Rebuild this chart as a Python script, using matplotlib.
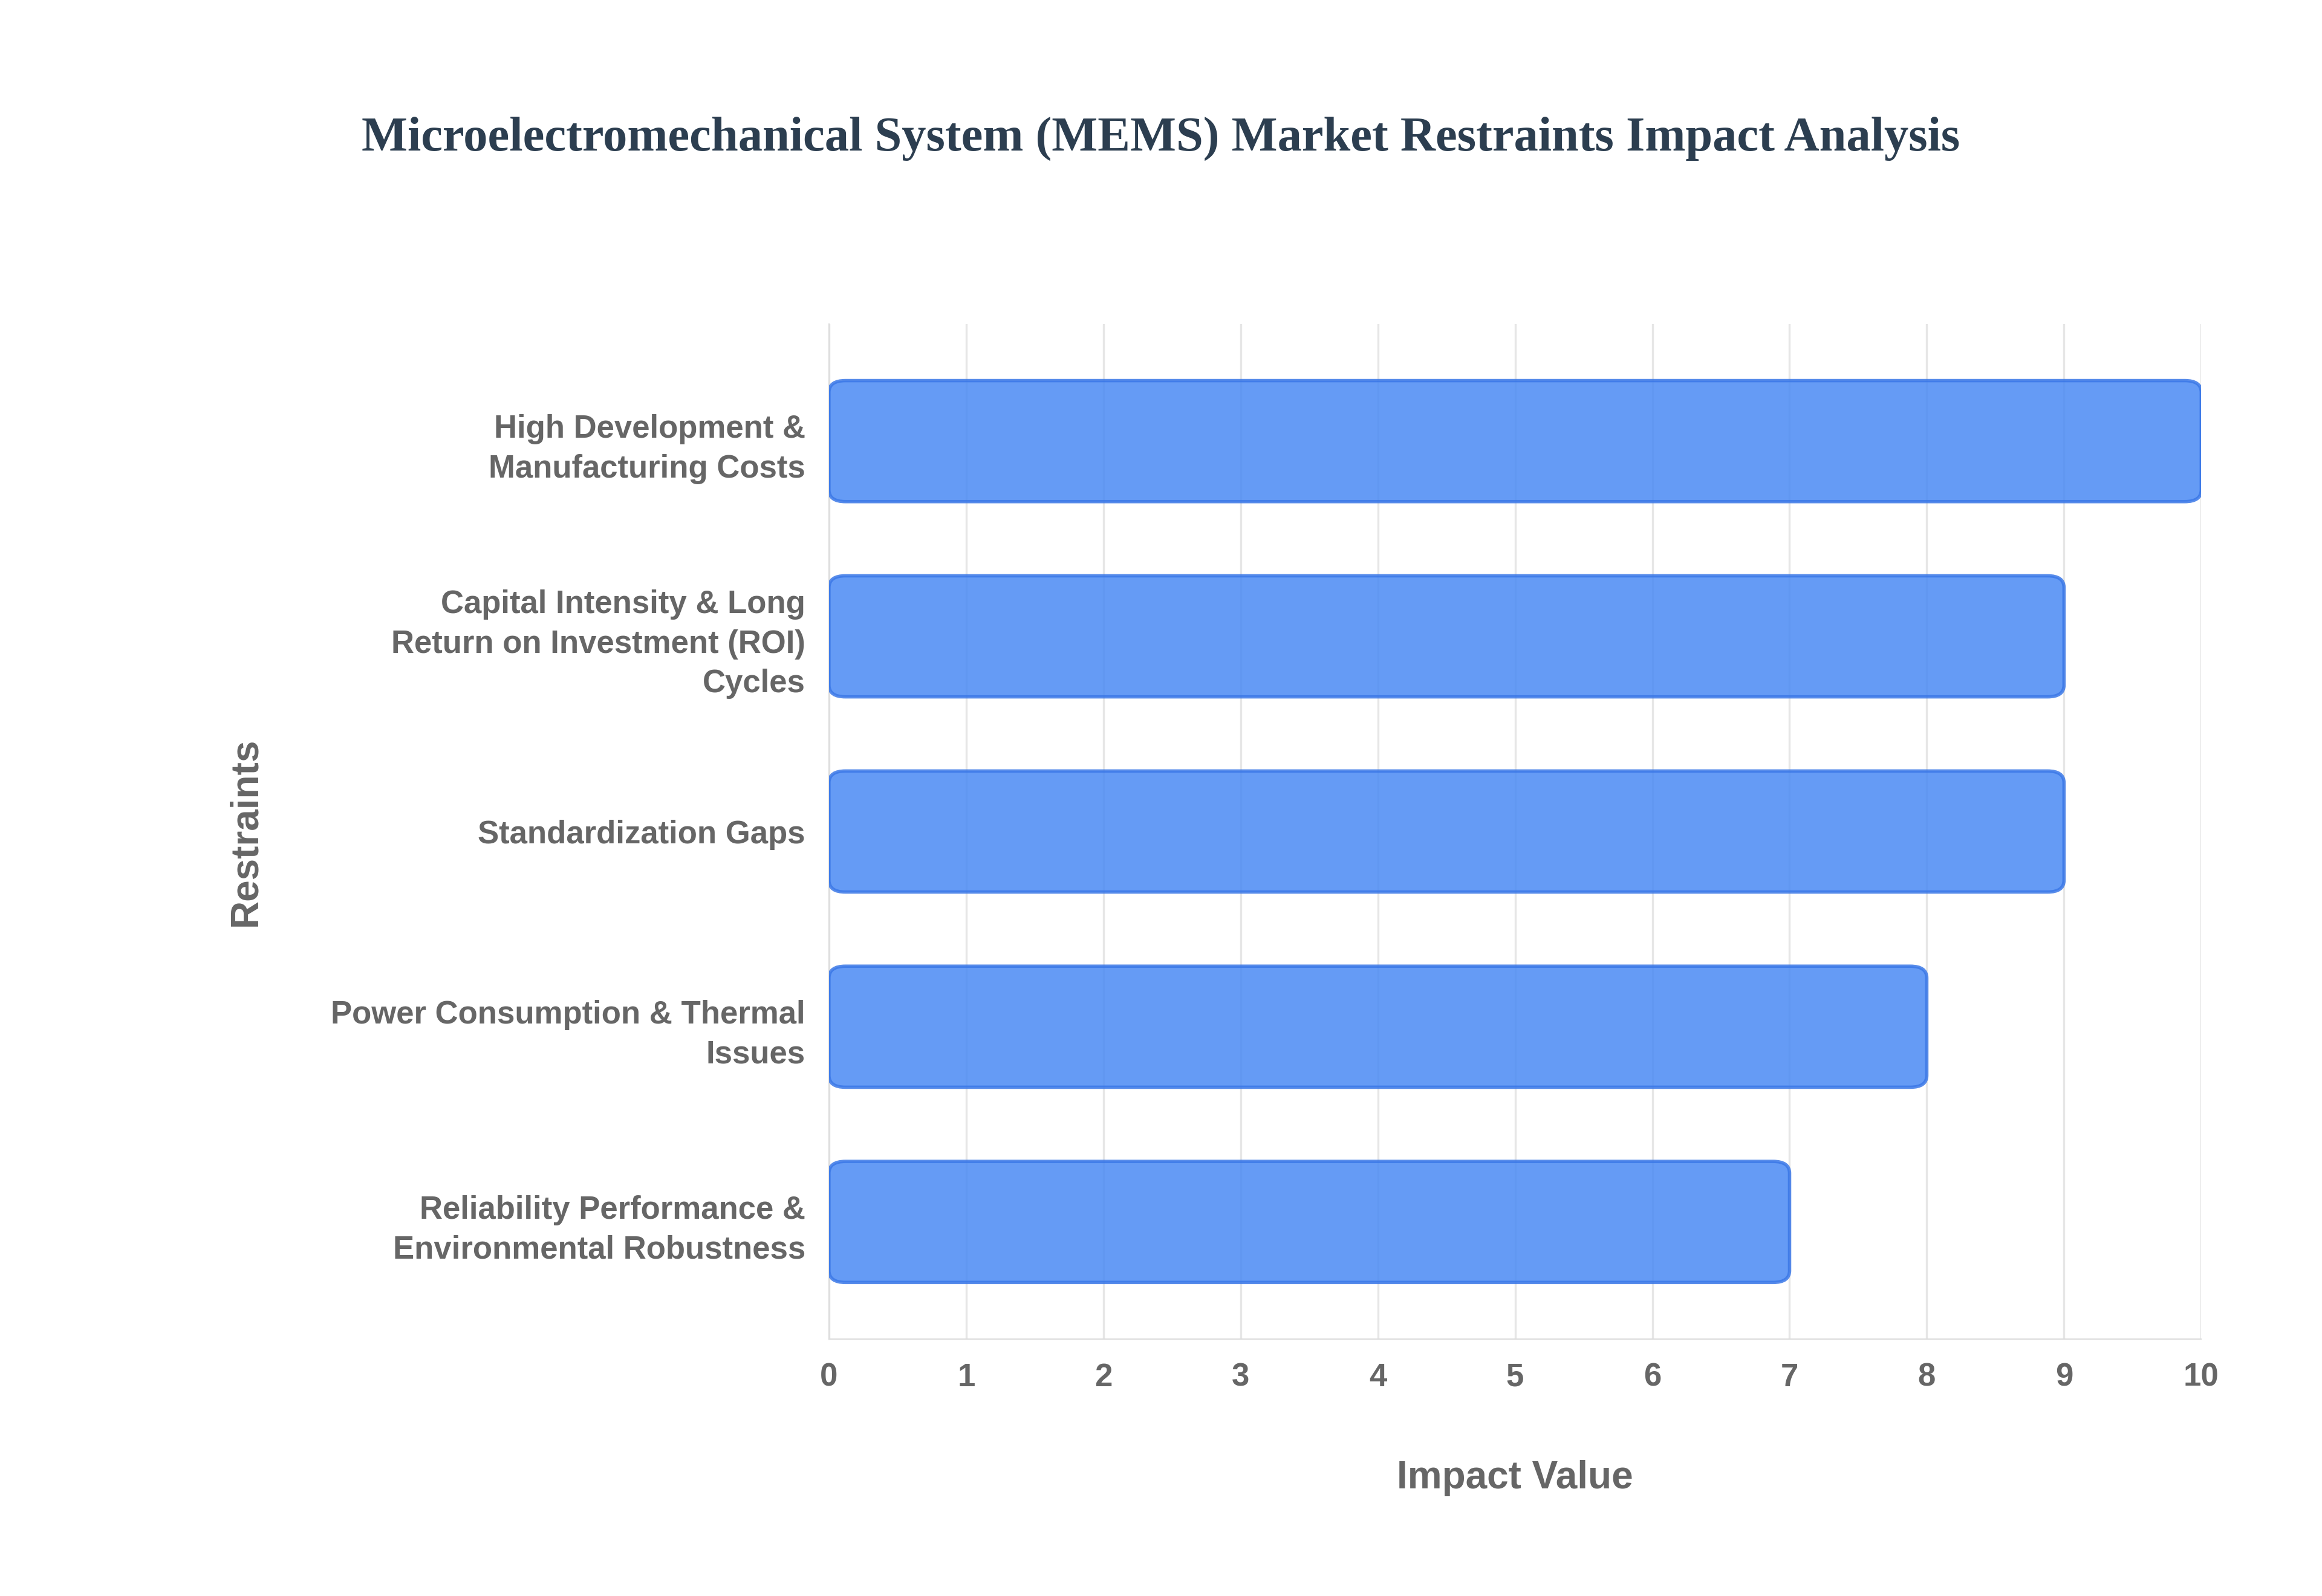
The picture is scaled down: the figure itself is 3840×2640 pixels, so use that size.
import matplotlib.pyplot as plt
from matplotlib.patches import FancyBboxPatch

restraints = [
    "High Development &\nManufacturing Costs",
    "Capital Intensity & Long\nReturn on Investment (ROI)\nCycles",
    "Standardization Gaps",
    "Power Consumption & Thermal\nIssues",
    "Reliability Performance &\nEnvironmental Robustness",
]
impact = [10, 9, 9, 8, 7]

fig = plt.figure(figsize=(19.2, 13.2), dpi=200)
ax = fig.add_axes([0.357, 0.161, 0.591, 0.636])

ypos = list(range(len(restraints)))[::-1]
bh = 0.62
for y, v in zip(ypos, impact):
    ax.add_patch(FancyBboxPatch((0, y - bh / 2), v, bh,
                                boxstyle="round,pad=0,rounding_size=0.12",
                                mutation_aspect=0.5,
                                facecolor="#4a8af4", alpha=0.85,
                                edgecolor="#3b78e7", linewidth=2, zorder=3))

ax.set_xlim(0, 10)
ax.set_ylim(-0.6, 4.6)
ax.set_xticks(range(11))
ax.set_yticks(ypos)
ax.set_yticklabels(restraints)
ax.grid(axis="x", color="#e6e6e6", linewidth=1.2, zorder=0)
for s in ["top", "right"]:
    ax.spines[s].set_visible(False)
for s in ["left", "bottom"]:
    ax.spines[s].set_color("#dddddd")
ax.tick_params(length=0, pad=14)
for lab in ax.get_xticklabels() + ax.get_yticklabels():
    lab.set_fontfamily("Liberation Sans")
    lab.set_fontweight("bold")
    lab.set_fontsize(19)
    lab.set_color("#666666")
for lab in ax.get_yticklabels():
    lab.set_linespacing(1.4)

ax.set_xlabel("Impact Value", fontfamily="Liberation Sans", fontweight="bold",
              fontsize=23, color="#666666", labelpad=40)
ax.set_ylabel("Restraints", fontfamily="Liberation Sans", fontweight="bold",
              fontsize=23, color="#666666", labelpad=40)

fig.text(0.5, 0.913, "Microelectromechanical System (MEMS) Market Restraints Impact Analysis",
         ha="center", va="center", fontfamily="Liberation Serif", fontweight="bold",
         fontsize=29, color="#2c3e50")

fig.savefig("out.png", dpi=200, facecolor="white")
